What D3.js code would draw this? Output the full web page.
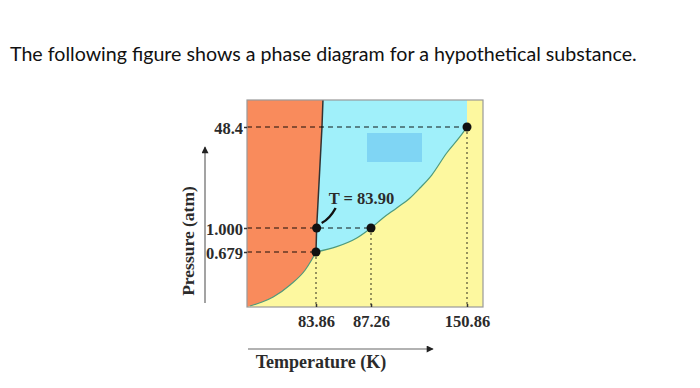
<!DOCTYPE html>
<html>
<head>
<meta charset="utf-8">
<script src="https://cdn.jsdelivr.net/npm/d3@7"></script>
<style>
  body { margin: 0; background: #fff; }
  .lbl { font-family: "Liberation Serif", "DejaVu Serif", serif; font-weight: bold; fill: #2b2b2b; }
</style>
</head>
<body>
<div id="chart"></div>
<script>
// ticks on the two (schematic) axes
var tempTicks = [83.86, 87.26, 150.86];
var pressTicks = [0.679, 1.000, 48.4];

// axis ends (the diagram is not to scale)
var tempDomain = [72, 83.86, 87.26, 150.86, 156];
var pressDomain = [0.3, 0.679, 1.000, 48.4, 56];

// phase boundaries, [T (K), P (atm)]
var sublimation = [[72.5, 0.307], [74.6, 0.334], [76.5, 0.369], [79.4, 0.452], [82.0, 0.555], [83.1, 0.624], [83.86, 0.679]];
var fusion = [[83.86, 0.679], [83.90, 1.000], [84.23, 48.4], [84.29, 56]];
var vaporization = [[83.86, 0.679], [85.14, 0.750], [86.38, 0.866], [87.26, 1.000], [95.2, 5.69], [104.3, 10.39],
                    [113.1, 15.08], [119.7, 19.77], [127.5, 25.87], [137.4, 36.2], [146.2, 43.85], [150.86, 48.4]];

// marked points
var points = [[83.86, 0.679], [83.90, 1.000], [87.26, 1.000], [150.86, 48.4]];
var annotation = "T = 83.90";

var W = 700, H = 388;
var plot = { left: 247, top: 100, width: 236, height: 207 };

var svg = d3.select("#chart").append("svg")
    .attr("width", W)
    .attr("height", H);

var title = svg.append("text")
    .attr("x", 10)
    .attr("y", 61)
    .style("font-family", "Lato, 'Open Sans', sans-serif")
    .style("font-size", "21px")
    .style("fill", "#111")
    .text("The following figure shows a phase diagram for a hypothetical substance.");
// stretch to the reference width only if the font comes out narrower
if (title.node().getComputedTextLength() < 627) {
    title.attr("textLength", 627).attr("lengthAdjust", "spacing");
} else {
    title.style("font-size", (21 * 627 / title.node().getComputedTextLength()) + "px");
}

var g = svg.append("g")
    .attr("transform", "translate(" + plot.left + "," + plot.top + ")");

var x = d3.scaleLinear()
    .domain(tempDomain)
    .range([0, 69, 124, 220, plot.width]);

var y = d3.scaleLinear()
    .domain(pressDomain)
    .range([plot.height, 152, 128, 27, 0]);

var tMin = tempDomain[0];
var pMin = pressDomain[0], pMax = pressDomain[pressDomain.length - 1];
var critical = vaporization[vaporization.length - 1];

var px = function(d) { return x(d[0]); };
var py = function(d) { return y(d[1]); };

var smooth = d3.line().x(px).y(py).curve(d3.curveMonotoneX);
var straight = d3.line().x(px).y(py);

// gas everywhere first
g.append("rect")
    .attr("width", plot.width)
    .attr("height", plot.height)
    .attr("fill", "#fdf89f");

// solid region: left edge, fusion line, sublimation curve
var solidPath = "M" + x(tMin) + "," + y(pMax)
    + straight(fusion.slice().reverse()).replace(/^M/, "L")
    + smooth(sublimation.slice().reverse()).replace(/^M/, "L")
    + "L" + x(tMin) + "," + y(pMin) + "Z";

g.append("path")
    .attr("d", solidPath)
    .attr("fill", "#f98b5c");

// liquid region: fusion line, top edge to critical T, vaporization curve
var liquidPath = straight(fusion)
    + "L" + x(critical[0]) + "," + y(pMax)
    + smooth(vaporization.slice().reverse()).replace(/^M/, "L") + "Z";

g.append("path")
    .attr("d", liquidPath)
    .attr("fill", "#a0f0fa");

// covered label box in the liquid area
g.append("rect")
    .attr("x", 120)
    .attr("y", 33)
    .attr("width", 55)
    .attr("height", 29)
    .attr("fill", "#7fd5f4");

// boundaries
g.append("path")
    .attr("d", smooth(sublimation))
    .attr("fill", "none")
    .attr("stroke", "#4f9a7c")
    .attr("stroke-width", 1.2);

g.append("path")
    .attr("d", smooth(vaporization))
    .attr("fill", "none")
    .attr("stroke", "#4f9a7c")
    .attr("stroke-width", 1.2);

g.append("path")
    .attr("d", straight(fusion))
    .attr("fill", "none")
    .attr("stroke", "#333")
    .attr("stroke-width", 1.5);

// guide lines: dashed across to each pressure, dotted down from each temperature
var pressGuides = pressTicks.map(function(p) {
    var far = d3.max(points.filter(function(d) { return d[1] === p; }), function(d) { return d[0]; });
    return { p: p, t: far };
});
var tempGuides = tempTicks.map(function(t) {
    var pt = points.filter(function(d) { return d[0] === t; })[0];
    return { t: t, p: pt[1] };
});

g.selectAll("line.hguide")
    .data(pressGuides)
    .enter().append("line")
    .attr("class", "hguide")
    .attr("x1", 0)
    .attr("x2", function(d) { return x(d.t); })
    .attr("y1", function(d) { return y(d.p); })
    .attr("y2", function(d) { return y(d.p); })
    .attr("stroke", "rgba(0,0,0,0.6)")
    .attr("stroke-width", 1.5)
    .attr("stroke-dasharray", "5,4");

g.selectAll("line.vguide")
    .data(tempGuides)
    .enter().append("line")
    .attr("class", "vguide")
    .attr("x1", function(d) { return x(d.t); })
    .attr("x2", function(d) { return x(d.t); })
    .attr("y1", function(d) { return y(d.p); })
    .attr("y2", plot.height)
    .attr("stroke", "rgba(0,0,0,0.55)")
    .attr("stroke-width", 1.5)
    .attr("stroke-dasharray", "2,3");

// frame
g.append("rect")
    .attr("width", plot.width)
    .attr("height", plot.height)
    .attr("fill", "none")
    .attr("stroke", "#999")
    .attr("stroke-width", 1.2);

// points
g.selectAll("circle.pt")
    .data(points)
    .enter().append("circle")
    .attr("class", "pt")
    .attr("cx", px)
    .attr("cy", py)
    .attr("r", 4.5)
    .attr("fill", "#111");

// axes (labels only, short ticks)
var yAxis = d3.axisLeft(y)
    .tickValues(pressTicks)
    .tickFormat(function(d) { return d === 48.4 ? "48.4" : d3.format(".3f")(d); })
    .tickSize(3)
    .tickPadding(1);

var xAxis = d3.axisBottom(x)
    .tickValues(tempTicks)
    .tickFormat(d3.format(".2f"))
    .tickSize(-3)
    .tickPadding(8);

var ya = g.append("g").call(yAxis);
var xa = g.append("g").attr("transform", "translate(0," + plot.height + ")").call(xAxis);

[ya, xa].forEach(function(a) {
    a.select(".domain").remove();
    a.selectAll(".tick line").attr("stroke", "#333").attr("stroke-width", 1.5);
    a.selectAll(".tick text")
        .attr("class", "lbl")
        .style("font-size", "16.5px")
        .attr("fill", "#2b2b2b");
});
ya.selectAll(".tick text").attr("dy", "0.4em");

// annotation for the melting point at 1 atm
var fp = points[1];
g.append("path")
    .attr("d", "M" + (px(fp) + 5) + "," + (py(fp) - 5)
        + "Q" + (px(fp) + 13) + "," + (py(fp) - 9) + " " + (px(fp) + 19) + "," + (py(fp) - 20))
    .attr("fill", "none")
    .attr("stroke", "#111")
    .attr("stroke-width", 2.4);

g.append("text")
    .attr("class", "lbl")
    .attr("x", px(fp) + 12)
    .attr("y", py(fp) - 24)
    .style("font-size", "16.5px")
    .text(annotation);

// axis titles with arrows
var defs = svg.append("defs");
defs.append("marker")
    .attr("id", "arrow")
    .attr("viewBox", "0 0 10 10")
    .attr("refX", 9)
    .attr("refY", 5)
    .attr("markerWidth", 10)
    .attr("markerHeight", 7)
    .attr("markerUnits", "userSpaceOnUse")
    .attr("orient", "auto")
    .append("path")
    .attr("d", "M0,0L10,5L0,10Z")
    .attr("fill", "#222");

svg.append("line")
    .attr("x1", 205).attr("y1", 303)
    .attr("x2", 205).attr("y2", 147)
    .attr("stroke", "#666")
    .attr("stroke-width", 1.2)
    .attr("marker-end", "url(#arrow)");

svg.append("line")
    .attr("x1", 248).attr("y1", 349)
    .attr("x2", 433).attr("y2", 349)
    .attr("stroke", "#666")
    .attr("stroke-width", 1.2)
    .attr("marker-end", "url(#arrow)");

svg.append("text")
    .attr("class", "lbl")
    .attr("transform", "translate(194,241) rotate(-90)")
    .attr("text-anchor", "middle")
    .style("font-size", "17.5px")
    .text("Pressure (atm)");

svg.append("text")
    .attr("class", "lbl")
    .attr("x", 321)
    .attr("y", 368)
    .attr("text-anchor", "middle")
    .style("font-size", "18px")
    .text("Temperature (K)");
</script>
</body>
</html>
